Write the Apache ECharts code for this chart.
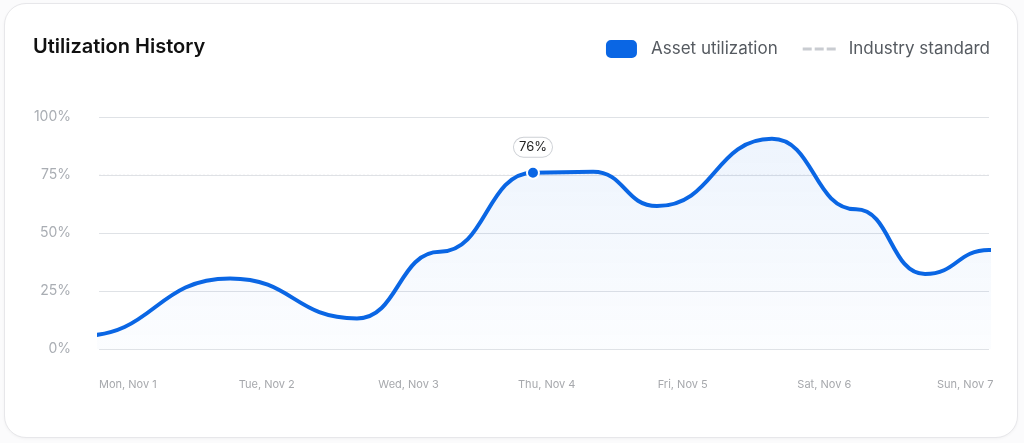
<!DOCTYPE html>
<html>
<head>
<meta charset="utf-8">
<script src="https://cdn.jsdelivr.net/npm/echarts@6/dist/echarts.min.js"></script>
<style>
  html, body { margin: 0; padding: 0; background: #fbfbfc; }
  .card {
    position: absolute; left: 4px; top: 3px; width: 1012px; height: 433px;
    border: 1px solid #e7e7ea; border-radius: 22px; background: #fff;
    box-shadow: 0 1px 3px rgba(0, 0, 0, 0.04);
  }
  #main { position: absolute; left: 0; top: 0; width: 1024px; height: 443px; }
</style>
</head>
<body>
<div class="card"></div>
<div id="main"></div>
<script>
const dayLabels = ['Mon, Nov 1', 'Tue, Nov 2', 'Wed, Nov 3', 'Thu, Nov 4', 'Fri, Nov 5', 'Sat, Nov 6', 'Sun, Nov 7'];

// shown window, in days since Mon, Nov 1
const visibleDays = [0, 6.372];

// readings (days since Mon, Nov 1); the outer ones sit just outside the window
const dayPos = [-0.4, -0.136, 0.938, 1.847, 2.441, 3.107, 3.537, 3.995, 4.818, 5.420, 5.914, 6.372, 6.666];

// asset utilization, %
const utilization = [5.0, 5.6, 30.4, 13.2, 41.9, 76, 76.4, 61.6, 90.6, 60.2, 32.3, 42.7, 43];

const markedIndex = 5;
const industryStandard = 75;
const yTicks = [0, 25, 50, 75, 100];

const blue = '#0a66e4';
const font = 'Inter, "Noto Sans", sans-serif';

const chartDom = document.getElementById('main');
const myChart = echarts.init(chartDom);

const assetData = dayPos.map((d, i) => {
    if (i !== markedIndex) return [d, utilization[i]];
    return {
        value: [d, utilization[i]],
        symbolSize: 12,
        label: { show: true }
    };
});

const pillIcon = 'path://M6,0h21a6,6 0 0 1 6,6v8a6,6 0 0 1 -6,6h-21a6,6 0 0 1 -6,-6v-8a6,6 0 0 1 6,-6z';
const dashIcon = 'path://M0,0h9v3h-9zM12,0h9v3h-9zM24,0h9v3h-9z';

myChart.setOption({
    animation: false,
    textStyle: { fontFamily: font },
    title: {
        text: 'Utilization History',
        left: 28,
        top: 32,
        textStyle: { fontSize: 20, fontWeight: 600, color: '#111', fontFamily: font }
    },
    legend: {
        right: 29,
        top: 33,
        itemWidth: 33,
        itemHeight: 20,
        itemGap: 25,
        symbolKeepAspect: true,
        textStyle: { fontSize: 17, color: '#555a60', fontFamily: font, padding: [0, 0, 0, 8] },
        data: [
            { name: 'Asset utilization', icon: pillIcon, itemStyle: { color: blue } },
            { name: 'Industry standard', icon: dashIcon, itemStyle: { color: '#c9ccd1' } }
        ]
    },
    grid: { left: 99, right: 35, top: 117, bottom: 94 },
    xAxis: {
        type: 'value',
        min: visibleDays[0],
        max: visibleDays[1],
        interval: 1,
        axisLine: { show: false },
        axisTick: { show: false },
        splitLine: { show: false },
        axisLabel: {
            showMaxLabel: false,
            align: 'left',
            margin: 30,
            fontSize: 11,
            color: '#a6a8ac',
            fontFamily: font,
            formatter: (v) => dayLabels[v] ?? ''
        }
    },
    yAxis: {
        type: 'value',
        min: yTicks[0],
        max: yTicks[yTicks.length - 1],
        interval: 25,
        axisLine: { show: false },
        axisTick: { show: false },
        axisLabel: { margin: 28, fontSize: 14, color: '#a9adb3', fontFamily: font, formatter: '{value}%' },
        splitLine: { lineStyle: { color: '#dfe2e6', width: 1 } }
    },
    series: [
        {
            name: 'Industry standard',
            type: 'line',
            symbol: 'none',
            silent: true,
            z: 1,
            data: [[visibleDays[0], industryStandard], [visibleDays[1], industryStandard]],
            itemStyle: { color: '#c9ccd1' },
            lineStyle: { color: '#dfe2e6', width: 1, type: [2, 2], opacity: 0.5 }
        },
        {
            name: 'Asset utilization',
            type: 'line',
            smooth: 0.5,
            smoothMonotone: 'x',
            clip: true,
            symbol: 'circle',
            symbolSize: 0,
            showAllSymbol: true,
            z: 3,
            data: assetData,
            lineStyle: { color: blue, width: 4, cap: 'round' },
            itemStyle: { color: blue, borderColor: '#fff', borderWidth: 2 },
            areaStyle: {
                color: new echarts.graphic.LinearGradient(0, 0, 0, 1, [
                    { offset: 0, color: 'rgba(10, 102, 228, 0.10)' },
                    { offset: 1, color: 'rgba(10, 102, 228, 0.02)' }
                ])
            },
            label: {
                show: false,
                position: 'top',
                distance: 9,
                formatter: (p) => Math.round(p.value[1]) + '%',
                fontSize: 13,
                color: '#222',
                fontFamily: font,
                backgroundColor: '#fff',
                borderColor: '#cdd0d5',
                borderWidth: 1,
                borderRadius: 10,
                padding: [3, 5, 3, 5]
            }
        }
    ]
});

window.addEventListener('resize', () => {
    myChart.resize();
});
</script>
</body>
</html>
